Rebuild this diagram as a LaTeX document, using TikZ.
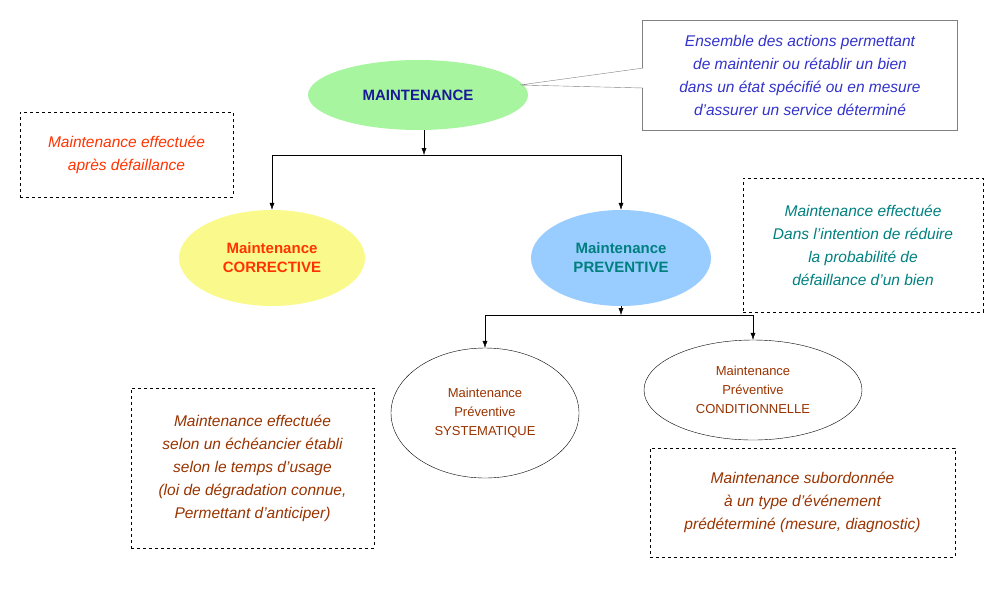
\documentclass[tikz,border=0pt]{standalone}
\usepackage{fontspec}
\setmainfont{Liberation Sans}
\usetikzlibrary{shapes.geometric,arrows.meta}
\definecolor{lgreen}{HTML}{A8F5A0}
\definecolor{lyellow}{HTML}{FAFA8C}
\definecolor{lblue}{HTML}{99CCFF}
\definecolor{dblue}{HTML}{1A1A99}
\definecolor{cblue}{HTML}{3333CC}
\definecolor{teal2}{HTML}{007F7F}
\definecolor{brown2}{HTML}{993300}
\definecolor{red2}{HTML}{FF3300}
\begin{document}
\begin{tikzpicture}[x=1pt,y=-1pt,
  ell/.style={ellipse,inner sep=0pt,align=center},
  note/.style={draw,dashed,align=center,font=\itshape\fontsize{15.5}{23}\selectfont,inner sep=0pt},
  big/.style={font=\bfseries\fontsize{15}{19}\selectfont},
  arr/.style={-{Latex[length=7pt,width=5pt]}}]
\useasboundingbox (0,0) rectangle (1006,600);
\node[ell,fill=lgreen,minimum width=220,minimum height=70,text=dblue,big] (m) at (418,95) {MAINTENANCE};
\node[draw=gray,fill=white,minimum width=315,minimum height=110,align=center,text=cblue,font=\itshape\fontsize{15.5}{23}\selectfont] (call) at (800,75) {Ensemble des actions permettant\\de maintenir ou rétablir un bien\\dans un état spécifié ou en mesure\\d'assurer un service déterminé};
\coordinate (tip) at (520,85);
\draw[gray,fill=white] (643.5,68) -- (tip) -- (643.5,88);
\node[note,text=red2,minimum width=213,minimum height=85] (n1) at (126.5,154.5) {Maintenance effectuée\\après défaillance};
\node[ell,fill=lyellow,minimum width=186,minimum height=96,text=red2,big] (c) at (272,258) {Maintenance\\CORRECTIVE};
\node[ell,fill=lblue,minimum width=180,minimum height=96,text=teal2,big] (p) at (621,258) {Maintenance\\PREVENTIVE};
\node[note,text=teal2,minimum width=240,minimum height=134] (n2) at (863,245) {Maintenance effectuée\\Dans l'intention de réduire\\la probabilité de\\défaillance d'un bien};
\node[ell,draw,minimum width=188,minimum height=130,text=brown2,font=\fontsize{13}{19}\selectfont] (s) at (485,413) {Maintenance\\Préventive\\SYSTEMATIQUE};
\node[ell,draw,minimum width=218,minimum height=100,text=brown2,font=\fontsize{13}{19}\selectfont] (k) at (753,390) {Maintenance\\Préventive\\CONDITIONNELLE};
\node[note,text=brown2,minimum width=243,minimum height=160] (n3) at (252.5,468) {Maintenance effectuée\\selon un échéancier établi\\selon le temps d'usage\\(loi de dégradation connue,\\Permettant d'anticiper)};
\node[note,text=brown2,minimum width=305,minimum height=109] (n4) at (802.5,502.5) {Maintenance subordonnée\\à un type d'événement\\prédéterminé (mesure, diagnostic)};
\coordinate (j1) at (424,155);
\coordinate (j2) at (621,315);
\draw[arr] (m.south -| j1) -- (j1);
\draw (j1 -| c.north) -- (j1 -| p.north);
\draw[arr] (j1 -| c.north) -- (c.north);
\draw[arr] (j1 -| p.north) -- (p.north);
\draw[arr] (p.south) -- (j2);
\draw (j2 -| s.north) -- (j2 -| k.north);
\draw[arr] (j2 -| s.north) -- (s.north);
\draw[arr] (j2 -| k.north) -- (k.north);
\end{tikzpicture}
\end{document}
